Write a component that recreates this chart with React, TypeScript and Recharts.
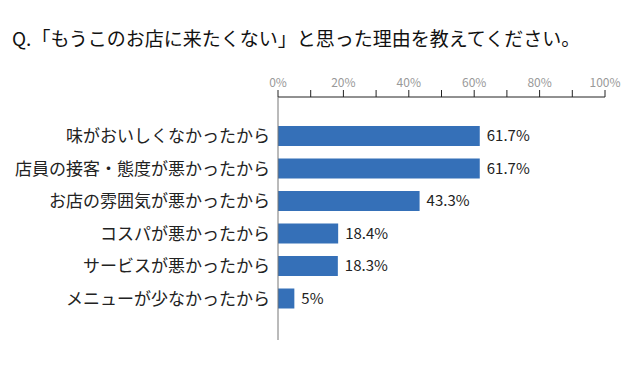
import React from "react";
import { BarChart, Bar, XAxis, YAxis, LabelList } from "recharts";

const TITLE = "Q.「もうこのお店に来たくない」と思った理由を教えてください。";

const reasons = [
  "味がおいしくなかったから",
  "店員の接客・態度が悪かったから",
  "お店の雰囲気が悪かったから",
  "コスパが悪かったから",
  "サービスが悪かったから",
  "メニューが少なかったから",
];

const shares = [61.7, 61.7, 43.3, 18.4, 18.3, 5];

const xTicks = [0, 10, 20, 30, 40, 50, 60, 70, 80, 90, 100];

const FONT = "'Noto Sans CJK JP', 'Noto Sans', sans-serif";

export default function App() {
  const data = reasons.map((reason, i) => ({ reason, share: shares[i] }));

  return (
    <div
      style={{
        position: "absolute",
        left: 0,
        top: 0,
        width: 632,
        height: 371,
        background: "#fff",
        fontFamily: FONT,
      }}
    >
      <div
        style={{
          position: "absolute",
          left: 12,
          top: 25,
          fontSize: 19,
          lineHeight: "26px",
          color: "#111",
          whiteSpace: "nowrap",
        }}
      >
        {TITLE}
      </div>
      <BarChart
        width={632}
        height={371}
        data={data}
        layout="vertical"
        margin={{ top: 67, right: 27, bottom: 31, left: 0 }}
        style={{ fontFamily: FONT }}
      >
        <XAxis
          type="number"
          orientation="top"
          height={30}
          domain={[0, 100]}
          ticks={xTicks}
          interval={0}
          tickFormatter={(v: number) => (v % 20 === 0 ? `${v}%` : "")}
          tickSize={7}
          tickMargin={3}
          stroke="#222"
          tick={{ fill: "#999", fontSize: 12 }}
        />
        <YAxis
          type="category"
          dataKey="reason"
          width={278}
          tickLine={false}
          tickSize={0}
          tickMargin={8}
          padding={{ top: 23, bottom: 25 }}
          stroke="#777"
          tick={{ fill: "#222", fontSize: 17 }}
        />
        <Bar dataKey="share" fill="#3570b8" barSize={20} isAnimationActive={false}>
          <LabelList
            dataKey="share"
            position="right"
            offset={7}
            fill="#222"
            fontSize={15}
            formatter={(v: number) => `${v}%`}
          />
        </Bar>
      </BarChart>
    </div>
  );
}
